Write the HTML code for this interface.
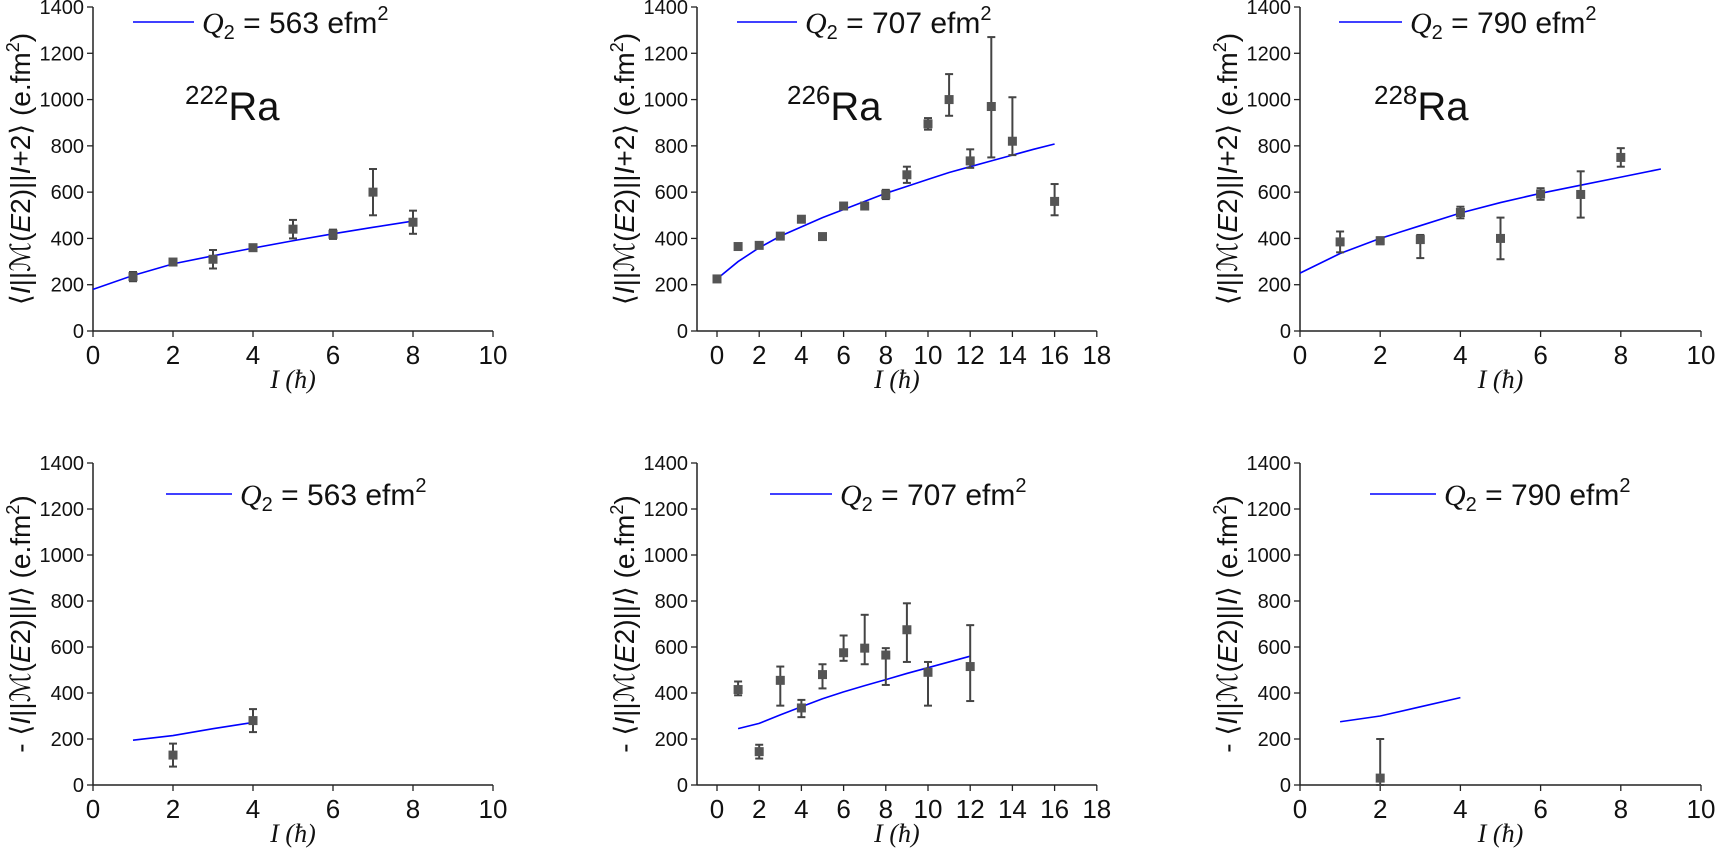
<!DOCTYPE html>
<html><head><meta charset="utf-8"><style>
html,body{margin:0;padding:0;background:#fff;}
svg{display:block;}
text{font-family:"Liberation Sans",sans-serif;fill:#111;}
.ser{font-family:"Liberation Serif",serif;font-style:italic;}
</style></head><body>
<svg id="s" width="1716" height="854" viewBox="0 0 1716 854" xmlns="http://www.w3.org/2000/svg"></svg>
<script>
const S=document.getElementById('s');let h='';
function panel(o){
 const {ax,x0,xs,xmax,xticks,y0,y1,line,pts,leg,label,ylab}=o;
 const X=v=>x0+v*xs, Y=v=>y0-(y0-y1)*v/1400;
 const xend=X(xmax);
 h+=`<line x1="${ax}" y1="${y1}" x2="${ax}" y2="${y0}" stroke="#222" stroke-width="1.5"/>`;
 h+=`<line x1="${ax}" y1="${y0}" x2="${xend}" y2="${y0}" stroke="#222" stroke-width="1.5"/>`;
 for(let v=0;v<=1400;v+=200){const y=Y(v);h+=`<line x1="${ax-6}" y1="${y}" x2="${ax}" y2="${y}" stroke="#222" stroke-width="1.3"/><text x="${ax-9}" y="${y+7}" font-size="20" text-anchor="end">${v}</text>`;}
 xticks.forEach(v=>{const x=X(v);h+=`<line x1="${x}" y1="${y0}" x2="${x}" y2="${y0+6}" stroke="#222" stroke-width="1.3"/><text x="${x}" y="${y0+33}" font-size="26" text-anchor="middle">${v}</text>`;});
 const mx=(ax+xend)/2;
 h+=`<text x="${mx}" y="${y0+57}" font-size="26" text-anchor="middle" class="ser">I (ħ)</text>`;
 const cy=(y0+y1)/2;
 h+=`<text transform="translate(${ylab} ${cy}) rotate(-90)" font-size="28" text-anchor="middle">${o.ytxt}</text>`;
 h+=`<polyline fill="none" stroke="#0000ff" stroke-width="1.6" points="${line.map(p=>X(p[0])+','+Y(p[1])).join(' ')}"/>`;
 pts.forEach(p=>{const x=X(p[0]);const hi=Y(p[2]),lo=Y(p[3]);
  if(p[2]!==p[3])h+=`<g stroke="#444" stroke-width="2"><line x1="${x}" y1="${hi}" x2="${x}" y2="${lo}"/><line x1="${x-4}" y1="${hi}" x2="${x+4}" y2="${hi}"/><line x1="${x-4}" y1="${lo}" x2="${x+4}" y2="${lo}"/></g>`;
  h+=`<rect x="${x-4.5}" y="${Y(p[1])-4.5}" width="9" height="9" fill="#555"/>`;});
 h+=`<line x1="${leg[0]}" y1="${leg[2]}" x2="${leg[1]}" y2="${leg[2]}" stroke="#0000ff" stroke-width="1.6"/>`;
 h+=`<text x="${leg[1]+8}" y="${leg[2]+11}" font-size="30"><tspan class="ser">Q</tspan><tspan font-size="20" dy="6">2</tspan><tspan dy="-6"> = ${o.q} efm</tspan><tspan font-size="20" dy="-13">2</tspan></text>`;
 if(label)h+=`<text x="${label[0]}" y="${label[1]}" font-size="40"><tspan font-size="26" dy="-16">${label[2]}</tspan><tspan dy="16">Ra</tspan></text>`;
}
const e=(x,v,d,u)=>[x,v,v+(u===undefined?d:u),v-d];
const T='⟨<tspan font-style="italic">I</tspan>||ℳ(<tspan font-style="italic">E</tspan>2)||<tspan font-style="italic">I</tspan>+2⟩ (e.fm<tspan font-size="18" dy="-11">2</tspan><tspan dy="11">)</tspan>';
const B='- ⟨<tspan font-style="italic">I</tspan>||ℳ(<tspan font-style="italic">E</tspan>2)||<tspan font-style="italic">I</tspan>⟩ (e.fm<tspan font-size="18" dy="-11">2</tspan><tspan dy="11">)</tspan>';
const t10=[0,2,4,6,8,10],t18=[0,2,4,6,8,10,12,14,16,18];
panel({ax:93,x0:93,xs:40,xmax:10,xticks:t10,y0:331,y1:7,ylab:30,ytxt:T,q:563,leg:[133,194,22],label:[185,120,'222'],
 line:[[0,180],[1,240],[2,290],[3,325],[4,358],[5,390],[6,420],[7,448],[8,475]],
 pts:[e(1,235,20),e(2,298,10),e(3,310,40),e(4,360,12),e(5,440,40),e(6,418,20),e(7,600,100),e(8,470,50)]});
panel({ax:697,x0:717,xs:21.1,xmax:18,xticks:t18,y0:331,y1:7,ylab:634,ytxt:T,q:707,leg:[737,797,22],label:[787,120,'226'],
 line:[[0,225],[1,300],[2,360],[3,410],[4,450],[5,490],[6,525],[7,560],[8,595],[9,625],[10,655],[11,685],[12,710],[13,735],[14,760],[15,785],[16,808]],
 pts:[e(0,225,0),e(1,365,0),e(2,370,0),e(3,410,0),e(4,483,0),e(5,408,0),e(6,540,0),e(7,540,0),e(8,590,20),e(9,675,35),e(10,895,25),e(11,1000,70,110),e(12,735,30,50),e(13,970,220,300),e(14,820,60,190),e(16,560,60,75)]});
panel({ax:1300,x0:1300,xs:40.1,xmax:10,xticks:t10,y0:331,y1:7,ylab:1237,ytxt:T,q:790,leg:[1339,1402,22],label:[1374,120,'228'],
 line:[[0,250],[1,335],[2,400],[3,455],[4,510],[5,555],[6,595],[7,630],[8,665],[9,700]],
 pts:[e(1,385,45),e(2,390,15),e(3,395,80,20),e(4,512,25),e(5,400,90),e(6,592,25),e(7,590,100),e(8,750,40)]});
panel({ax:93,x0:93,xs:40,xmax:10,xticks:t10,y0:785,y1:463,ylab:30,ytxt:B,q:563,leg:[166,232,494],
 line:[[1,195],[2,215],[3,245],[4,272]],
 pts:[e(2,130,50),e(4,280,50)]});
panel({ax:697,x0:717,xs:21.1,xmax:18,xticks:t18,y0:785,y1:463,ylab:634,ytxt:B,q:707,leg:[770,832,494],
 line:[[1,245],[2,268],[3,305],[4,340],[5,375],[6,405],[7,432],[8,458],[9,485],[10,510],[11,535],[12,560]],
 pts:[e(1,415,25,35),e(2,145,30),e(3,455,110,60),e(4,335,40,35),e(5,480,60,45),e(6,575,35,75),e(7,595,70,145),e(8,565,130,30),e(9,675,140,115),e(10,490,145,45),e(12,515,150,180)]});
panel({ax:1300,x0:1300,xs:40.1,xmax:10,xticks:t10,y0:785,y1:463,ylab:1237,ytxt:B,q:790,leg:[1370,1436,494],
 line:[[1,275],[2,300],[3,340],[4,380]],
 pts:[e(2,30,30,170)]});
S.innerHTML=h;
</script>
</body></html>
